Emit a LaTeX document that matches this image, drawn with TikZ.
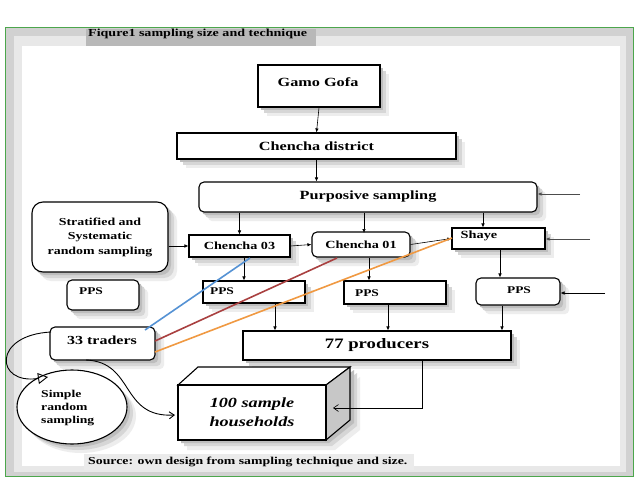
\documentclass[tikz,border=0pt]{standalone}
\usepackage{fontspec}
\setmainfont[FakeStretch=1.3]{Liberation Serif}
\usetikzlibrary{arrows.meta,shapes.geometric}
\definecolor{shadowfaint}{gray}{0.93}
\definecolor{shadowlight}{gray}{0.84}
\definecolor{shadowdark}{gray}{0.74}
\newcommand{\mkshadow}[5][4pt]{%
  \path[fill=shadowfaint, rounded corners=#1] ({#2-#4/2+9},{#3-#5/2+9}) rectangle ({#2+#4/2+9},{#3+#5/2+9});
  \path[fill=shadowlight, rounded corners=#1] ({#2-#4/2+6},{#3-#5/2+6}) rectangle ({#2+#4/2+6},{#3+#5/2+6});
  \path[fill=shadowdark, rounded corners=#1] ({#2-#4/2+3},{#3-#5/2+3}) rectangle ({#2+#4/2+3},{#3+#5/2+3});}
\begin{document}
\begin{tikzpicture}[x=1pt,y=-1pt,
  box/.style={draw, line width=1.1pt, fill=white, inner sep=0pt},
  rbox/.style={box, rounded corners=5pt},
  lbl/.style={font=\bfseries\fontsize{11}{13}\selectfont, inner sep=0pt},
  arr/.style={-{Latex[length=4pt,width=3.5pt]}, line width=0.6pt},
  sarr/.style={-{Latex[length=4pt,width=3.5pt]}, line width=0.9pt, black!70},
  link/.style={line width=1.6pt}
]
\useasboundingbox (0,0) rectangle (638,479);
% frame
\fill[white] (0,0) rectangle (638,479);
\fill[black!18] (5,27) rectangle (633,476);
\fill[black!9] (14,36) rectangle (626,472);
\fill[white] (22,46) rectangle (620,466);
\draw[green!50!black!70, line width=0.8pt] (5,27) rectangle (633,476);
\fill[black!28] (86,29) rectangle (316,46);
\fill[black!8] (84,454) rectangle (414,470);
\node[lbl, anchor=west, font=\bfseries\fontsize{10.8}{12}\selectfont] (title) at (88,34) {Fiqure1 sampling size and technique};
\node[lbl, anchor=west, font=\bfseries\fontsize{10.6}{12}\selectfont] (source) at (88,462) {Source: own design from sampling technique and size.};

% shadows
\mkshadow[0pt]{319}{86}{122}{42}
\mkshadow[0pt]{316.5}{146}{279}{26}
\mkshadow{368}{197}{338}{30}
\mkshadow[10pt]{100}{237}{136}{70}
\mkshadow[0pt]{239.5}{246}{101}{22}
\mkshadow{361}{244.5}{98}{25}
\mkshadow[0pt]{498.5}{238.5}{93}{21}
\mkshadow{103}{295}{72}{30}
\mkshadow[0pt]{254}{292}{102}{22}
\mkshadow[0pt]{395}{292.5}{102}{23}
\mkshadow{518}{291.5}{84}{27}
\mkshadow{102.5}{343.5}{105}{33}
\mkshadow[0pt]{377}{345.5}{268}{29}
\path[fill=shadowfaint] (187,395) -- (335,395) -- (360,377) -- (360,430) -- (335,450) -- (187,450) -- cycle;
\path[fill=shadowlight] (184,391) -- (332,391) -- (357,373) -- (357,426) -- (332,446) -- (184,446) -- cycle;
\path[fill=shadowdark] (181,388) -- (329,388) -- (354,370) -- (354,423) -- (329,443) -- (181,443) -- cycle;
\path[fill=shadowfaint] (81,416) ellipse [x radius=55pt, y radius=37pt];
\path[fill=shadowlight] (78,413) ellipse [x radius=55pt, y radius=37pt];
\path[fill=shadowdark] (75,410) ellipse [x radius=55pt, y radius=37pt];

% main boxes
\node[box, minimum width=122pt, minimum height=42pt] (gamo) at (319,86) {};
\node[lbl, font=\bfseries\fontsize{12.5}{14}\selectfont] (gamot) at (318,82) {Gamo Gofa};
\node[box, minimum width=279pt, minimum height=26pt, font=\bfseries\fontsize{12.5}{14}\selectfont] (dist) at (316.5,146) {Chencha district};
\node[rbox, minimum width=338pt, minimum height=30pt, font=\bfseries\fontsize{12.5}{14}\selectfont] (purp) at (368,197) {Purposive sampling};
\node[rbox, rounded corners=11pt, minimum width=136pt, minimum height=70pt, align=center, font=\bfseries\fontsize{10.7}{14.5}\selectfont] (strat) at (100,237) {Stratified and\\Systematic\\random sampling};
\node[box, minimum width=101pt, minimum height=22pt, font=\bfseries\fontsize{10.9}{12}\selectfont] (c03) at (239.5,246) {Chencha 03};
\node[rbox, minimum width=98pt, minimum height=25pt, font=\bfseries\fontsize{10.9}{12}\selectfont] (c01) at (361,244.5) {Chencha 01};
\node[box, minimum width=93pt, minimum height=21pt] (shaye) at (498.5,238.5) {};
\node[lbl] (shayet) at (479,236) {Shaye};

\node[rbox, minimum width=72pt, minimum height=30pt] (ppsL) at (103,295) {};
\node[lbl, font=\bfseries\fontsize{10.3}{12}\selectfont] (ppsLt) at (91,291) {PPS};
\node[box, minimum width=102pt, minimum height=22pt] (pps1) at (254,292) {};
\node[lbl, font=\bfseries\fontsize{10.3}{12}\selectfont] (pps1t) at (222,291) {PPS};
\node[box, minimum width=102pt, minimum height=23pt] (pps2) at (395,292.5) {};
\node[lbl, font=\bfseries\fontsize{10.3}{12}\selectfont] (pps2t) at (367,293) {PPS};
\node[rbox, minimum width=84pt, minimum height=27pt] (pps3) at (518,291.5) {};
\node[lbl, font=\bfseries\fontsize{10.3}{12}\selectfont] (pps3t) at (519,290) {PPS};

\node[rbox, minimum width=105pt, minimum height=33pt] (trad) at (102.5,343.5) {};
\node[lbl, font=\bfseries\fontsize{12.3}{14}\selectfont] (tradt) at (102,340) {33 traders};
\node[box, minimum width=268pt, minimum height=29pt, font=\bfseries\fontsize{14.4}{16}\selectfont] (prod) at (377,345.5) {77 producers};

% 3D box
\draw[line width=1.1pt, fill=white] (178,385) -- (198,367) -- (350,367) -- (326,385) -- cycle;
\draw[line width=1.1pt, fill=black!22] (326,385) -- (350,367) -- (350,420) -- (326,440) -- cycle;
\node[draw, line width=1.1pt, fill=white, minimum width=148pt, minimum height=55pt, inner sep=0pt, align=center,
  font=\bfseries\itshape\fontsize{14}{19}\selectfont] (house) at (252,412.5) {100 sample\\households};

% ellipse
\node[ellipse, draw, line width=1.1pt, fill=white, minimum width=110pt, minimum height=74pt] (srs) at (72,407) {};
\node[lbl, align=left, anchor=west, font=\bfseries\fontsize{10.5}{13}\selectfont] (srst) at (41,408) {Simple\\random\\sampling};

% arrows
\draw[arr] (gamo.south) -- (dist.north);
\draw[arr] (dist.south) -- (purp.north -| dist.south);
\draw[arr] (purp.south -| c03.north) -- (c03.north);
\draw[arr] (purp.south -| c01.north) ++(3,0) -- ++(0,20.5);
\draw[arr] (purp.south -| 483,0) -- (shaye.north -| 483,0);
\draw[arr] (strat.east |- c03.west) -- (c03.west);
\draw[arr] (c03.east) -- (c01.west);
\draw[arr] (c01.east) -- (shaye.west);
\coordinate (rp) at (580,194);
\coordinate (rs) at (590,239);
\coordinate (r3) at (605,293);
\draw[sarr] (rp) -- (purp.east |- rp);
\draw[sarr] (rs) -- (shaye.east |- rs);
\draw[arr] (r3) -- (pps3.east |- r3);
\draw[arr] (c03.south -| 244,0) -- (pps1.north -| 244,0);
\draw[arr] (c01.south -| 369,0) -- (pps2.north -| 369,0);
\draw[arr] (shaye.south -| 500,0) -- (pps3.north -| 500,0);
\draw[arr] (pps1.south -| 275,0) -- (prod.north -| 275,0);
\draw[arr] (pps2.south -| 388,0) -- (prod.north -| 388,0);
\draw[arr] (pps3.south -| 502,0) -- (prod.north -| 502,0);
\draw[arr, -{Straight Barb[length=5pt,width=7pt]}] (prod.south -| 422,0) |- (333,408);

% coloured links
\draw[link, cyan!55!blue!70!white] (145,330) -- (250,258);
\draw[link, red!55!black!75] (155,341) -- (337,258);
\draw[link, orange!70!brown!80] (155,352) -- (452,238);

% curves
\draw[line width=0.9pt, -{Triangle[open, length=10pt, width=11pt]}] (51,332) .. controls (-8,335) and (-5,385) .. (48,377);
\draw[line width=0.9pt, -{Straight Barb[length=5pt,width=7pt]}] (86,360) .. controls (135,362) and (120,418) .. (175,415);
\end{tikzpicture}
\end{document}
